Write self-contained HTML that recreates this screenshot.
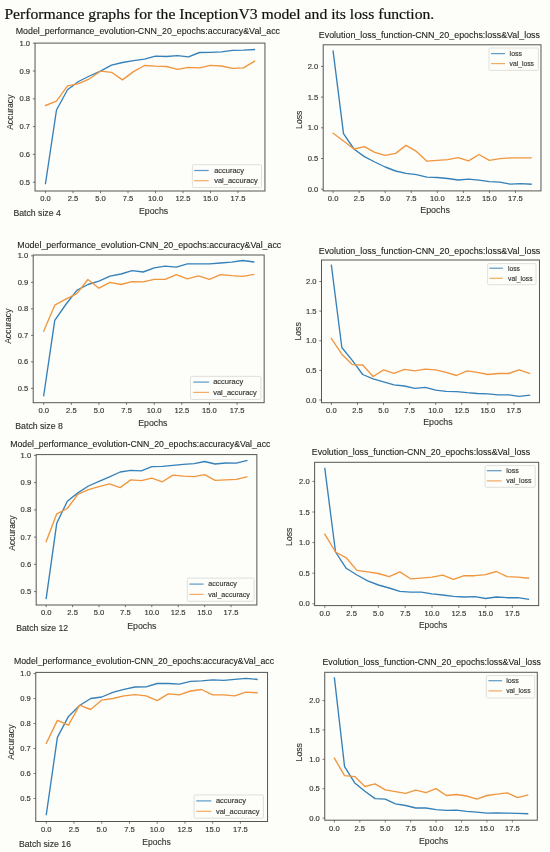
<!DOCTYPE html>
<html><head><meta charset="utf-8"><style>
html,body{margin:0;padding:0;background:#fdfdf9;}
svg{display:block;filter:blur(0.3px);}
text{font-family:"Liberation Sans",sans-serif;fill:#222;}
.cap{font-family:"Liberation Serif",serif;font-size:15px;fill:#111;stroke:#111;stroke-width:0.2px;}
.ti{font-size:8.8px;stroke:#222;stroke-width:0.1px;}
.tl{font-size:7.6px;fill:#333;stroke:#333;stroke-width:0.15px;}
.lg{font-size:7.7px;fill:#333;stroke:#333;stroke-width:0.15px;}
.lb{font-size:8.6px;fill:#333;stroke:#333;stroke-width:0.12px;}
.bt{font-size:8.7px;fill:#333;stroke:#333;stroke-width:0.15px;}
.ln{stroke-width:1.35;stroke-linejoin:round;stroke-linecap:square;}
.sp{stroke-width:1.0;}
.tk{stroke:#555;stroke-width:0.8;}
</style></head><body>
<svg width="550" height="852" viewBox="0 0 550 852">
<rect width="550" height="852" fill="#fdfdf9"/>
<text x="4.4" y="18.5" class="cap" textLength="429.9" lengthAdjust="spacingAndGlyphs">Performance graphs for the InceptionV3 model and its loss function.</text>
<text x="15.7" y="34" class="ti" textLength="264.3" lengthAdjust="spacingAndGlyphs">Model_performance_evolution-CNN_20_epochs:accuracy&amp;Val_acc</text>
<polyline points="45.5,183.6 56.5,110 67.5,89.7 78.5,81.5 89.5,76 100.5,71.2 111.5,65.1 122.5,62.5 133.5,60.7 144.5,59.2 155.5,56.1 166.5,56.5 177.5,55.6 188.5,56.8 199.5,52.5 210.5,52.3 221.5,51.8 232.5,50.4 243.5,50.2 254.5,49.5" fill="none" stroke="#3581ba" class="ln"/>
<polyline points="45.5,105.5 56.5,101.1 67.5,85.8 78.5,83.6 89.5,78.8 100.5,71.2 111.5,72.3 122.5,79.9 133.5,71.6 144.5,65.5 155.5,66.2 166.5,66.5 177.5,69.3 188.5,67.4 199.5,67.9 210.5,65.3 221.5,66 232.5,68.4 243.5,67.9 254.5,61.3" fill="none" stroke="#f0963e" class="ln"/>
<rect x="35.05" y="43.1" width="229.9" height="147.9" fill="none" stroke="#555" class="sp"/>
<line x1="45.5" y1="191" x2="45.5" y2="193.2" class="tk"/>
<text x="45.5" y="201.4" class="tl" text-anchor="middle">0.0</text>
<line x1="73" y1="191" x2="73" y2="193.2" class="tk"/>
<text x="73" y="201.4" class="tl" text-anchor="middle">2.5</text>
<line x1="100.5" y1="191" x2="100.5" y2="193.2" class="tk"/>
<text x="100.5" y="201.4" class="tl" text-anchor="middle">5.0</text>
<line x1="128" y1="191" x2="128" y2="193.2" class="tk"/>
<text x="128" y="201.4" class="tl" text-anchor="middle">7.5</text>
<line x1="155.5" y1="191" x2="155.5" y2="193.2" class="tk"/>
<text x="155.5" y="201.4" class="tl" text-anchor="middle">10.0</text>
<line x1="183" y1="191" x2="183" y2="193.2" class="tk"/>
<text x="183" y="201.4" class="tl" text-anchor="middle">12.5</text>
<line x1="210.5" y1="191" x2="210.5" y2="193.2" class="tk"/>
<text x="210.5" y="201.4" class="tl" text-anchor="middle">15.0</text>
<line x1="238" y1="191" x2="238" y2="193.2" class="tk"/>
<text x="238" y="201.4" class="tl" text-anchor="middle">17.5</text>
<line x1="32.85" y1="182.2" x2="35.05" y2="182.2" class="tk"/>
<text x="30.05" y="184.8" class="tl" text-anchor="end">0.5</text>
<line x1="32.85" y1="154.4" x2="35.05" y2="154.4" class="tk"/>
<text x="30.05" y="157" class="tl" text-anchor="end">0.6</text>
<line x1="32.85" y1="126.6" x2="35.05" y2="126.6" class="tk"/>
<text x="30.05" y="129.2" class="tl" text-anchor="end">0.7</text>
<line x1="32.85" y1="98.8" x2="35.05" y2="98.8" class="tk"/>
<text x="30.05" y="101.4" class="tl" text-anchor="end">0.8</text>
<line x1="32.85" y1="71" x2="35.05" y2="71" class="tk"/>
<text x="30.05" y="73.6" class="tl" text-anchor="end">0.9</text>
<line x1="32.85" y1="43.2" x2="35.05" y2="43.2" class="tk"/>
<text x="30.05" y="45.8" class="tl" text-anchor="end">1.0</text>
<text transform="translate(9.6,112.2) rotate(-90)" x="0" y="0" class="lb" text-anchor="middle" dominant-baseline="central">Accuracy</text>
<text x="138.9" y="213.9" class="lb" textLength="29.3" lengthAdjust="spacingAndGlyphs">Epochs</text>
<rect x="192.4" y="164.7" width="69.1" height="22.9" rx="1.2" fill="#fdfdf9" fill-opacity="0.8" stroke="#d8d8d8" stroke-width="0.8"/>
<line x1="194.1" y1="170.5" x2="208.7" y2="170.5" stroke="#3581ba" stroke-opacity="0.8" stroke-width="1.2"/>
<text x="214.2" y="172.8" class="lg" textLength="29.8" lengthAdjust="spacingAndGlyphs">accuracy</text>
<line x1="194.1" y1="180.7" x2="208.7" y2="180.7" stroke="#f0963e" stroke-opacity="0.8" stroke-width="1.2"/>
<text x="214.2" y="183" class="lg" textLength="43.6" lengthAdjust="spacingAndGlyphs">val_accuracy</text>
<text x="13.4" y="215.7" class="bt" textLength="47.4" lengthAdjust="spacingAndGlyphs">Batch size 4</text>
<text x="318.8" y="38.2" class="ti" textLength="221.2" lengthAdjust="spacingAndGlyphs">Evolution_loss_function-CNN_20_epochs:loss&amp;Val_loss</text>
<polyline points="333.1,51 343.52,133.6 353.94,149 364.36,156.6 374.78,162 385.2,167 395.62,171 406.04,173.4 416.46,174.6 426.88,177.2 437.3,177.5 447.72,178.5 458.14,180 468.56,179.2 478.98,180.2 489.4,181.7 499.82,182.1 510.24,184.2 520.66,183.6 531.08,184.2" fill="none" stroke="#3581ba" class="ln"/>
<polyline points="333.1,133.2 343.52,141 353.94,149 364.36,146.6 374.78,152.4 385.2,155.4 395.62,153.4 406.04,145.4 416.46,151.4 426.88,161.2 437.3,160.4 447.72,159.7 458.14,157.6 468.56,160.8 478.98,154.5 489.4,160.4 499.82,158.7 510.24,157.8 520.66,157.8 531.08,157.8" fill="none" stroke="#f0963e" class="ln"/>
<rect x="323.2" y="44.8" width="217.78" height="146.1" fill="none" stroke="#555" class="sp"/>
<line x1="333.1" y1="190.9" x2="333.1" y2="193.1" class="tk"/>
<text x="333.1" y="201.3" class="tl" text-anchor="middle">0.0</text>
<line x1="359.15" y1="190.9" x2="359.15" y2="193.1" class="tk"/>
<text x="359.15" y="201.3" class="tl" text-anchor="middle">2.5</text>
<line x1="385.2" y1="190.9" x2="385.2" y2="193.1" class="tk"/>
<text x="385.2" y="201.3" class="tl" text-anchor="middle">5.0</text>
<line x1="411.25" y1="190.9" x2="411.25" y2="193.1" class="tk"/>
<text x="411.25" y="201.3" class="tl" text-anchor="middle">7.5</text>
<line x1="437.3" y1="190.9" x2="437.3" y2="193.1" class="tk"/>
<text x="437.3" y="201.3" class="tl" text-anchor="middle">10.0</text>
<line x1="463.35" y1="190.9" x2="463.35" y2="193.1" class="tk"/>
<text x="463.35" y="201.3" class="tl" text-anchor="middle">12.5</text>
<line x1="489.4" y1="190.9" x2="489.4" y2="193.1" class="tk"/>
<text x="489.4" y="201.3" class="tl" text-anchor="middle">15.0</text>
<line x1="515.45" y1="190.9" x2="515.45" y2="193.1" class="tk"/>
<text x="515.45" y="201.3" class="tl" text-anchor="middle">17.5</text>
<line x1="321" y1="189.2" x2="323.2" y2="189.2" class="tk"/>
<text x="318.2" y="191.8" class="tl" text-anchor="end">0.0</text>
<line x1="321" y1="158.5" x2="323.2" y2="158.5" class="tk"/>
<text x="318.2" y="161.1" class="tl" text-anchor="end">0.5</text>
<line x1="321" y1="127.8" x2="323.2" y2="127.8" class="tk"/>
<text x="318.2" y="130.4" class="tl" text-anchor="end">1.0</text>
<line x1="321" y1="97.1" x2="323.2" y2="97.1" class="tk"/>
<text x="318.2" y="99.7" class="tl" text-anchor="end">1.5</text>
<line x1="321" y1="66.4" x2="323.2" y2="66.4" class="tk"/>
<text x="318.2" y="69" class="tl" text-anchor="end">2.0</text>
<text transform="translate(299.3,119.8) rotate(-90)" x="0" y="0" class="lb" text-anchor="middle" dominant-baseline="central">Loss</text>
<text x="420.2" y="213.1" class="lb" textLength="29.8" lengthAdjust="spacingAndGlyphs">Epochs</text>
<rect x="489" y="48" width="49.4" height="22.4" rx="1.2" fill="#fdfdf9" fill-opacity="0.8" stroke="#d8d8d8" stroke-width="0.8"/>
<line x1="491" y1="53.6" x2="505" y2="53.6" stroke="#3581ba" stroke-opacity="0.8" stroke-width="1.2"/>
<text x="509.6" y="55.9" class="lg" textLength="12.4" lengthAdjust="spacingAndGlyphs">loss</text>
<line x1="491" y1="63.6" x2="505" y2="63.6" stroke="#f0963e" stroke-opacity="0.8" stroke-width="1.2"/>
<text x="509.6" y="65.9" class="lg" textLength="24.4" lengthAdjust="spacingAndGlyphs">val_loss</text>
<text x="17.3" y="247.8" class="ti" textLength="264" lengthAdjust="spacingAndGlyphs">Model_performance_evolution-CNN_20_epochs:accuracy&amp;Val_acc</text>
<polyline points="43.7,395.8 54.75,320.3 65.8,304.5 76.85,290.4 87.9,284.5 98.95,281.2 110,276.2 121.05,274 132.1,270.7 143.15,272 154.2,267.8 165.25,266.1 176.3,267.1 187.35,263.8 198.4,263.8 209.45,263.8 220.5,263 231.55,262.1 242.6,260.5 253.65,261.9" fill="none" stroke="#3581ba" class="ln"/>
<polyline points="43.7,331.2 54.75,305.2 65.8,299.1 76.85,293.6 87.9,279.5 98.95,288.2 110,282.3 121.05,284.5 132.1,281.6 143.15,281.9 154.2,279.3 165.25,279.3 176.3,274.7 187.35,278.9 198.4,275.9 209.45,279.3 220.5,274.7 231.55,275.7 242.6,276.3 253.65,274.5" fill="none" stroke="#f0963e" class="ln"/>
<rect x="33.2" y="255" width="230.95" height="147.7" fill="none" stroke="#555" class="sp"/>
<line x1="43.7" y1="402.7" x2="43.7" y2="404.9" class="tk"/>
<text x="43.7" y="413.1" class="tl" text-anchor="middle">0.0</text>
<line x1="71.33" y1="402.7" x2="71.33" y2="404.9" class="tk"/>
<text x="71.33" y="413.1" class="tl" text-anchor="middle">2.5</text>
<line x1="98.95" y1="402.7" x2="98.95" y2="404.9" class="tk"/>
<text x="98.95" y="413.1" class="tl" text-anchor="middle">5.0</text>
<line x1="126.58" y1="402.7" x2="126.58" y2="404.9" class="tk"/>
<text x="126.58" y="413.1" class="tl" text-anchor="middle">7.5</text>
<line x1="154.2" y1="402.7" x2="154.2" y2="404.9" class="tk"/>
<text x="154.2" y="413.1" class="tl" text-anchor="middle">10.0</text>
<line x1="181.82" y1="402.7" x2="181.82" y2="404.9" class="tk"/>
<text x="181.82" y="413.1" class="tl" text-anchor="middle">12.5</text>
<line x1="209.45" y1="402.7" x2="209.45" y2="404.9" class="tk"/>
<text x="209.45" y="413.1" class="tl" text-anchor="middle">15.0</text>
<line x1="237.07" y1="402.7" x2="237.07" y2="404.9" class="tk"/>
<text x="237.07" y="413.1" class="tl" text-anchor="middle">17.5</text>
<line x1="31" y1="388.4" x2="33.2" y2="388.4" class="tk"/>
<text x="28.2" y="391" class="tl" text-anchor="end">0.5</text>
<line x1="31" y1="361.88" x2="33.2" y2="361.88" class="tk"/>
<text x="28.2" y="364.48" class="tl" text-anchor="end">0.6</text>
<line x1="31" y1="335.36" x2="33.2" y2="335.36" class="tk"/>
<text x="28.2" y="337.96" class="tl" text-anchor="end">0.7</text>
<line x1="31" y1="308.84" x2="33.2" y2="308.84" class="tk"/>
<text x="28.2" y="311.44" class="tl" text-anchor="end">0.8</text>
<line x1="31" y1="282.32" x2="33.2" y2="282.32" class="tk"/>
<text x="28.2" y="284.92" class="tl" text-anchor="end">0.9</text>
<line x1="31" y1="255.8" x2="33.2" y2="255.8" class="tk"/>
<text x="28.2" y="258.4" class="tl" text-anchor="end">1.0</text>
<text transform="translate(8.4,326.2) rotate(-90)" x="0" y="0" class="lb" text-anchor="middle" dominant-baseline="central">Accuracy</text>
<text x="138.2" y="425.8" class="lb" textLength="29.3" lengthAdjust="spacingAndGlyphs">Epochs</text>
<rect x="190.5" y="376.4" width="70.4" height="23.1" rx="1.2" fill="#fdfdf9" fill-opacity="0.8" stroke="#d8d8d8" stroke-width="0.8"/>
<line x1="193.3" y1="382.1" x2="209.1" y2="382.1" stroke="#3581ba" stroke-opacity="0.8" stroke-width="1.2"/>
<text x="213.2" y="384.4" class="lg" textLength="30" lengthAdjust="spacingAndGlyphs">accuracy</text>
<line x1="193.3" y1="392.4" x2="209.1" y2="392.4" stroke="#f0963e" stroke-opacity="0.8" stroke-width="1.2"/>
<text x="213.2" y="394.7" class="lg" textLength="43.6" lengthAdjust="spacingAndGlyphs">val_accuracy</text>
<text x="15.3" y="428.6" class="bt" textLength="47.5" lengthAdjust="spacingAndGlyphs">Batch size 8</text>
<text x="318.7" y="253.5" class="ti" textLength="221.6" lengthAdjust="spacingAndGlyphs">Evolution_loss_function-CNN_20_epochs:loss&amp;Val_loss</text>
<polyline points="331.4,265.3 341.83,347.5 352.26,360.4 362.69,374.5 373.12,378.8 383.55,381.8 393.98,384.9 404.41,386 414.84,388.3 425.27,387.4 435.7,390.2 446.13,391.4 456.56,391.6 466.99,392.7 477.42,393.5 487.85,393.9 498.28,394.8 508.71,394.8 519.14,396.4 529.57,395.2" fill="none" stroke="#3581ba" class="ln"/>
<polyline points="331.4,338.5 341.83,354.2 352.26,364.6 362.69,365 373.12,376.5 383.55,369.9 393.98,373.4 404.41,369.4 414.84,370.9 425.27,369.2 435.7,369.9 446.13,372.4 456.56,375.5 466.99,370.9 477.42,372.4 487.85,374.5 498.28,373.5 508.71,373.5 519.14,369.9 529.57,373.5" fill="none" stroke="#f0963e" class="ln"/>
<rect x="321.49" y="260" width="217.99" height="142.7" fill="none" stroke="#555" class="sp"/>
<line x1="331.4" y1="402.7" x2="331.4" y2="404.9" class="tk"/>
<text x="331.4" y="413.1" class="tl" text-anchor="middle">0.0</text>
<line x1="357.47" y1="402.7" x2="357.47" y2="404.9" class="tk"/>
<text x="357.47" y="413.1" class="tl" text-anchor="middle">2.5</text>
<line x1="383.55" y1="402.7" x2="383.55" y2="404.9" class="tk"/>
<text x="383.55" y="413.1" class="tl" text-anchor="middle">5.0</text>
<line x1="409.62" y1="402.7" x2="409.62" y2="404.9" class="tk"/>
<text x="409.62" y="413.1" class="tl" text-anchor="middle">7.5</text>
<line x1="435.7" y1="402.7" x2="435.7" y2="404.9" class="tk"/>
<text x="435.7" y="413.1" class="tl" text-anchor="middle">10.0</text>
<line x1="461.77" y1="402.7" x2="461.77" y2="404.9" class="tk"/>
<text x="461.77" y="413.1" class="tl" text-anchor="middle">12.5</text>
<line x1="487.85" y1="402.7" x2="487.85" y2="404.9" class="tk"/>
<text x="487.85" y="413.1" class="tl" text-anchor="middle">15.0</text>
<line x1="513.92" y1="402.7" x2="513.92" y2="404.9" class="tk"/>
<text x="513.92" y="413.1" class="tl" text-anchor="middle">17.5</text>
<line x1="319.29" y1="400" x2="321.49" y2="400" class="tk"/>
<text x="316.49" y="402.6" class="tl" text-anchor="end">0.0</text>
<line x1="319.29" y1="370.38" x2="321.49" y2="370.38" class="tk"/>
<text x="316.49" y="372.98" class="tl" text-anchor="end">0.5</text>
<line x1="319.29" y1="340.75" x2="321.49" y2="340.75" class="tk"/>
<text x="316.49" y="343.35" class="tl" text-anchor="end">1.0</text>
<line x1="319.29" y1="311.12" x2="321.49" y2="311.12" class="tk"/>
<text x="316.49" y="313.73" class="tl" text-anchor="end">1.5</text>
<line x1="319.29" y1="281.5" x2="321.49" y2="281.5" class="tk"/>
<text x="316.49" y="284.1" class="tl" text-anchor="end">2.0</text>
<text transform="translate(297.6,331.4) rotate(-90)" x="0" y="0" class="lb" text-anchor="middle" dominant-baseline="central">Loss</text>
<text x="423.2" y="425.2" class="lb" textLength="29.5" lengthAdjust="spacingAndGlyphs">Epochs</text>
<rect x="487.6" y="263.6" width="48.4" height="21.1" rx="1.2" fill="#fdfdf9" fill-opacity="0.8" stroke="#d8d8d8" stroke-width="0.8"/>
<line x1="489.4" y1="268.2" x2="502.9" y2="268.2" stroke="#3581ba" stroke-opacity="0.8" stroke-width="1.2"/>
<text x="508" y="270.5" class="lg" textLength="11.9" lengthAdjust="spacingAndGlyphs">loss</text>
<line x1="489.4" y1="278.3" x2="502.9" y2="278.3" stroke="#f0963e" stroke-opacity="0.8" stroke-width="1.2"/>
<text x="508" y="280.6" class="lg" textLength="24.6" lengthAdjust="spacingAndGlyphs">val_loss</text>
<text x="10.2" y="447.1" class="ti" textLength="260.2" lengthAdjust="spacingAndGlyphs">Model_performance_evolution-CNN_20_epochs:accuracy&amp;Val_acc</text>
<polyline points="46.2,598.4 56.76,523.2 67.32,501.2 77.88,492.9 88.44,486 99,481.4 109.56,476.8 120.12,472 130.68,470.3 141.24,470.9 151.8,466.7 162.36,466.3 172.92,465.3 183.48,464.4 194.04,463.6 204.6,461.5 215.16,464 225.72,463 236.28,463.2 246.84,460.5" fill="none" stroke="#3581ba" class="ln"/>
<polyline points="46.2,541.6 56.76,513.8 67.32,508.5 77.88,494.3 88.44,489.7 99,486.6 109.56,483.9 120.12,487.6 130.68,479.9 141.24,480.7 151.8,478.2 162.36,481.8 172.92,475.1 183.48,476.1 194.04,476.6 204.6,474.7 215.16,480.3 225.72,479.9 236.28,479.3 246.84,476.8" fill="none" stroke="#f0963e" class="ln"/>
<rect x="36.17" y="454.6" width="220.7" height="150.4" fill="none" stroke="#555" class="sp"/>
<line x1="46.2" y1="605" x2="46.2" y2="607.2" class="tk"/>
<text x="46.2" y="615.4" class="tl" text-anchor="middle">0.0</text>
<line x1="72.6" y1="605" x2="72.6" y2="607.2" class="tk"/>
<text x="72.6" y="615.4" class="tl" text-anchor="middle">2.5</text>
<line x1="99" y1="605" x2="99" y2="607.2" class="tk"/>
<text x="99" y="615.4" class="tl" text-anchor="middle">5.0</text>
<line x1="125.4" y1="605" x2="125.4" y2="607.2" class="tk"/>
<text x="125.4" y="615.4" class="tl" text-anchor="middle">7.5</text>
<line x1="151.8" y1="605" x2="151.8" y2="607.2" class="tk"/>
<text x="151.8" y="615.4" class="tl" text-anchor="middle">10.0</text>
<line x1="178.2" y1="605" x2="178.2" y2="607.2" class="tk"/>
<text x="178.2" y="615.4" class="tl" text-anchor="middle">12.5</text>
<line x1="204.6" y1="605" x2="204.6" y2="607.2" class="tk"/>
<text x="204.6" y="615.4" class="tl" text-anchor="middle">15.0</text>
<line x1="231" y1="605" x2="231" y2="607.2" class="tk"/>
<text x="231" y="615.4" class="tl" text-anchor="middle">17.5</text>
<line x1="33.97" y1="591.6" x2="36.17" y2="591.6" class="tk"/>
<text x="31.17" y="594.2" class="tl" text-anchor="end">0.5</text>
<line x1="33.97" y1="564.36" x2="36.17" y2="564.36" class="tk"/>
<text x="31.17" y="566.96" class="tl" text-anchor="end">0.6</text>
<line x1="33.97" y1="537.12" x2="36.17" y2="537.12" class="tk"/>
<text x="31.17" y="539.72" class="tl" text-anchor="end">0.7</text>
<line x1="33.97" y1="509.88" x2="36.17" y2="509.88" class="tk"/>
<text x="31.17" y="512.48" class="tl" text-anchor="end">0.8</text>
<line x1="33.97" y1="482.64" x2="36.17" y2="482.64" class="tk"/>
<text x="31.17" y="485.24" class="tl" text-anchor="end">0.9</text>
<line x1="33.97" y1="455.4" x2="36.17" y2="455.4" class="tk"/>
<text x="31.17" y="458" class="tl" text-anchor="end">1.0</text>
<text transform="translate(12.1,533.1) rotate(-90)" x="0" y="0" class="lb" text-anchor="middle" dominant-baseline="central">Accuracy</text>
<text x="127.2" y="628.6" class="lb" textLength="29.3" lengthAdjust="spacingAndGlyphs">Epochs</text>
<rect x="187.3" y="578.1" width="66.8" height="23.2" rx="1.2" fill="#fdfdf9" fill-opacity="0.8" stroke="#d8d8d8" stroke-width="0.8"/>
<line x1="189.4" y1="584.1" x2="203.6" y2="584.1" stroke="#3581ba" stroke-opacity="0.8" stroke-width="1.2"/>
<text x="208.3" y="586.4" class="lg" textLength="28.6" lengthAdjust="spacingAndGlyphs">accuracy</text>
<line x1="189.4" y1="594.4" x2="203.6" y2="594.4" stroke="#f0963e" stroke-opacity="0.8" stroke-width="1.2"/>
<text x="208.3" y="596.7" class="lg" textLength="41.6" lengthAdjust="spacingAndGlyphs">val_accuracy</text>
<text x="16.3" y="630.9" class="bt" textLength="51.8" lengthAdjust="spacingAndGlyphs">Batch size 12</text>
<text x="311.8" y="455.4" class="ti" textLength="218.3" lengthAdjust="spacingAndGlyphs">Evolution_loss_function-CNN_20_epochs:loss&amp;Val_loss</text>
<polyline points="324.8,468.4 335.52,552 346.24,568.3 356.96,575 367.68,580.8 378.4,585 389.12,588 399.84,591.3 410.56,592.1 421.28,592.1 432,593.9 442.72,595 453.44,596.4 464.16,597 474.88,596.6 485.6,598.5 496.32,597 507.04,597.7 517.76,597.7 528.48,599.3" fill="none" stroke="#3581ba" class="ln"/>
<polyline points="324.8,534.2 335.52,552 346.24,557.8 356.96,570.4 367.68,571.9 378.4,573.5 389.12,576.7 399.84,571.9 410.56,578.8 421.28,578.1 432,577.2 442.72,575.1 453.44,579.3 464.16,575.7 474.88,575.7 485.6,574.7 496.32,571.5 507.04,576.6 517.76,577.2 528.48,578.2" fill="none" stroke="#f0963e" class="ln"/>
<rect x="314.62" y="462.3" width="224.05" height="143.3" fill="none" stroke="#555" class="sp"/>
<line x1="324.8" y1="605.6" x2="324.8" y2="607.8" class="tk"/>
<text x="324.8" y="616" class="tl" text-anchor="middle">0.0</text>
<line x1="351.6" y1="605.6" x2="351.6" y2="607.8" class="tk"/>
<text x="351.6" y="616" class="tl" text-anchor="middle">2.5</text>
<line x1="378.4" y1="605.6" x2="378.4" y2="607.8" class="tk"/>
<text x="378.4" y="616" class="tl" text-anchor="middle">5.0</text>
<line x1="405.2" y1="605.6" x2="405.2" y2="607.8" class="tk"/>
<text x="405.2" y="616" class="tl" text-anchor="middle">7.5</text>
<line x1="432" y1="605.6" x2="432" y2="607.8" class="tk"/>
<text x="432" y="616" class="tl" text-anchor="middle">10.0</text>
<line x1="458.8" y1="605.6" x2="458.8" y2="607.8" class="tk"/>
<text x="458.8" y="616" class="tl" text-anchor="middle">12.5</text>
<line x1="485.6" y1="605.6" x2="485.6" y2="607.8" class="tk"/>
<text x="485.6" y="616" class="tl" text-anchor="middle">15.0</text>
<line x1="512.4" y1="605.6" x2="512.4" y2="607.8" class="tk"/>
<text x="512.4" y="616" class="tl" text-anchor="middle">17.5</text>
<line x1="312.42" y1="603.8" x2="314.62" y2="603.8" class="tk"/>
<text x="309.62" y="606.4" class="tl" text-anchor="end">0.0</text>
<line x1="312.42" y1="573.2" x2="314.62" y2="573.2" class="tk"/>
<text x="309.62" y="575.8" class="tl" text-anchor="end">0.5</text>
<line x1="312.42" y1="542.6" x2="314.62" y2="542.6" class="tk"/>
<text x="309.62" y="545.2" class="tl" text-anchor="end">1.0</text>
<line x1="312.42" y1="512" x2="314.62" y2="512" class="tk"/>
<text x="309.62" y="514.6" class="tl" text-anchor="end">1.5</text>
<line x1="312.42" y1="481.4" x2="314.62" y2="481.4" class="tk"/>
<text x="309.62" y="484" class="tl" text-anchor="end">2.0</text>
<text transform="translate(289.4,536.8) rotate(-90)" x="0" y="0" class="lb" text-anchor="middle" dominant-baseline="central">Loss</text>
<text x="418.9" y="627.8" class="lb" textLength="28.5" lengthAdjust="spacingAndGlyphs">Epochs</text>
<rect x="485.1" y="465.6" width="50.1" height="21.7" rx="1.2" fill="#fdfdf9" fill-opacity="0.8" stroke="#d8d8d8" stroke-width="0.8"/>
<line x1="486.8" y1="470.7" x2="501.6" y2="470.7" stroke="#3581ba" stroke-opacity="0.8" stroke-width="1.2"/>
<text x="506.2" y="473" class="lg" textLength="12.7" lengthAdjust="spacingAndGlyphs">loss</text>
<line x1="486.8" y1="480.9" x2="501.6" y2="480.9" stroke="#f0963e" stroke-opacity="0.8" stroke-width="1.2"/>
<text x="506.2" y="483.2" class="lg" textLength="25.4" lengthAdjust="spacingAndGlyphs">val_loss</text>
<text x="14" y="664.3" class="ti" textLength="260" lengthAdjust="spacingAndGlyphs">Model_performance_evolution-CNN_20_epochs:accuracy&amp;Val_acc</text>
<polyline points="46.3,814.6 57.39,737.4 68.48,716.4 79.57,705.5 90.66,698.5 101.75,697 112.84,692.4 123.93,689.4 135.02,687 146.11,686.8 157.2,683.5 168.29,683.5 179.38,684.1 190.47,681.3 201.56,680.9 212.65,679.8 223.74,680.4 234.83,679.4 245.92,678.3 257.01,679.4" fill="none" stroke="#3581ba" class="ln"/>
<polyline points="46.3,743.3 57.39,720.4 68.48,725.2 79.57,705.1 90.66,709.5 101.75,700.1 112.84,698.5 123.93,695.9 135.02,694.6 146.11,695.9 157.2,700.6 168.29,693.8 179.38,694.8 190.47,691 201.56,689.5 212.65,694.8 223.74,694.8 234.83,695.9 245.92,692.2 257.01,692.7" fill="none" stroke="#f0963e" class="ln"/>
<rect x="35.76" y="672.4" width="231.78" height="149.1" fill="none" stroke="#555" class="sp"/>
<line x1="46.3" y1="821.5" x2="46.3" y2="823.7" class="tk"/>
<text x="46.3" y="831.9" class="tl" text-anchor="middle">0.0</text>
<line x1="74.03" y1="821.5" x2="74.03" y2="823.7" class="tk"/>
<text x="74.03" y="831.9" class="tl" text-anchor="middle">2.5</text>
<line x1="101.75" y1="821.5" x2="101.75" y2="823.7" class="tk"/>
<text x="101.75" y="831.9" class="tl" text-anchor="middle">5.0</text>
<line x1="129.47" y1="821.5" x2="129.47" y2="823.7" class="tk"/>
<text x="129.47" y="831.9" class="tl" text-anchor="middle">7.5</text>
<line x1="157.2" y1="821.5" x2="157.2" y2="823.7" class="tk"/>
<text x="157.2" y="831.9" class="tl" text-anchor="middle">10.0</text>
<line x1="184.93" y1="821.5" x2="184.93" y2="823.7" class="tk"/>
<text x="184.93" y="831.9" class="tl" text-anchor="middle">12.5</text>
<line x1="212.65" y1="821.5" x2="212.65" y2="823.7" class="tk"/>
<text x="212.65" y="831.9" class="tl" text-anchor="middle">15.0</text>
<line x1="240.38" y1="821.5" x2="240.38" y2="823.7" class="tk"/>
<text x="240.38" y="831.9" class="tl" text-anchor="middle">17.5</text>
<line x1="33.56" y1="798.5" x2="35.76" y2="798.5" class="tk"/>
<text x="30.76" y="801.1" class="tl" text-anchor="end">0.5</text>
<line x1="33.56" y1="773.52" x2="35.76" y2="773.52" class="tk"/>
<text x="30.76" y="776.12" class="tl" text-anchor="end">0.6</text>
<line x1="33.56" y1="748.54" x2="35.76" y2="748.54" class="tk"/>
<text x="30.76" y="751.14" class="tl" text-anchor="end">0.7</text>
<line x1="33.56" y1="723.56" x2="35.76" y2="723.56" class="tk"/>
<text x="30.76" y="726.16" class="tl" text-anchor="end">0.8</text>
<line x1="33.56" y1="698.58" x2="35.76" y2="698.58" class="tk"/>
<text x="30.76" y="701.18" class="tl" text-anchor="end">0.9</text>
<line x1="33.56" y1="673.6" x2="35.76" y2="673.6" class="tk"/>
<text x="30.76" y="676.2" class="tl" text-anchor="end">1.0</text>
<text transform="translate(11.2,742.2) rotate(-90)" x="0" y="0" class="lb" text-anchor="middle" dominant-baseline="central">Accuracy</text>
<text x="142.3" y="844.9" class="lb" textLength="28.6" lengthAdjust="spacingAndGlyphs">Epochs</text>
<rect x="194.1" y="794.9" width="69.3" height="23.3" rx="1.2" fill="#fdfdf9" fill-opacity="0.8" stroke="#d8d8d8" stroke-width="0.8"/>
<line x1="196.3" y1="800.9" x2="211.3" y2="800.9" stroke="#3581ba" stroke-opacity="0.8" stroke-width="1.2"/>
<text x="215.9" y="803.2" class="lg" textLength="30" lengthAdjust="spacingAndGlyphs">accuracy</text>
<line x1="196.3" y1="811.3" x2="211.3" y2="811.3" stroke="#f0963e" stroke-opacity="0.8" stroke-width="1.2"/>
<text x="215.9" y="813.6" class="lg" textLength="43.6" lengthAdjust="spacingAndGlyphs">val_accuracy</text>
<text x="18.9" y="846.9" class="bt" textLength="52.1" lengthAdjust="spacingAndGlyphs">Batch size 16</text>
<text x="322.5" y="664.9" class="ti" textLength="218.5" lengthAdjust="spacingAndGlyphs">Evolution_loss_function-CNN_20_epochs:loss&amp;Val_loss</text>
<polyline points="334.4,677.9 344.57,766.6 354.74,782.9 364.91,791.3 375.08,798.6 385.25,799.2 395.42,803.8 405.59,805.5 415.76,808 425.93,808 436.1,809.6 446.27,810.4 456.44,810.2 466.61,811.4 476.78,812.1 486.95,813.1 497.12,812.9 507.29,813.1 517.46,813.3 527.63,813.7" fill="none" stroke="#3581ba" class="ln"/>
<polyline points="334.4,758.2 344.57,775.6 354.74,776.6 364.91,786.5 375.08,783.9 385.25,789.8 395.42,791.7 405.59,793.4 415.76,790.2 425.93,792.7 436.1,788.6 446.27,795.5 456.44,794.5 466.61,796 476.78,799.1 486.95,795.5 497.12,794.1 507.29,792.8 517.46,797.6 527.63,795.1" fill="none" stroke="#f0963e" class="ln"/>
<rect x="324.74" y="672.3" width="212.55" height="147.9" fill="none" stroke="#555" class="sp"/>
<line x1="334.4" y1="820.2" x2="334.4" y2="822.4" class="tk"/>
<text x="334.4" y="830.6" class="tl" text-anchor="middle">0.0</text>
<line x1="359.82" y1="820.2" x2="359.82" y2="822.4" class="tk"/>
<text x="359.82" y="830.6" class="tl" text-anchor="middle">2.5</text>
<line x1="385.25" y1="820.2" x2="385.25" y2="822.4" class="tk"/>
<text x="385.25" y="830.6" class="tl" text-anchor="middle">5.0</text>
<line x1="410.67" y1="820.2" x2="410.67" y2="822.4" class="tk"/>
<text x="410.67" y="830.6" class="tl" text-anchor="middle">7.5</text>
<line x1="436.1" y1="820.2" x2="436.1" y2="822.4" class="tk"/>
<text x="436.1" y="830.6" class="tl" text-anchor="middle">10.0</text>
<line x1="461.52" y1="820.2" x2="461.52" y2="822.4" class="tk"/>
<text x="461.52" y="830.6" class="tl" text-anchor="middle">12.5</text>
<line x1="486.95" y1="820.2" x2="486.95" y2="822.4" class="tk"/>
<text x="486.95" y="830.6" class="tl" text-anchor="middle">15.0</text>
<line x1="512.38" y1="820.2" x2="512.38" y2="822.4" class="tk"/>
<text x="512.38" y="830.6" class="tl" text-anchor="middle">17.5</text>
<line x1="322.54" y1="818.1" x2="324.74" y2="818.1" class="tk"/>
<text x="319.74" y="820.7" class="tl" text-anchor="end">0.0</text>
<line x1="322.54" y1="788.73" x2="324.74" y2="788.73" class="tk"/>
<text x="319.74" y="791.33" class="tl" text-anchor="end">0.5</text>
<line x1="322.54" y1="759.35" x2="324.74" y2="759.35" class="tk"/>
<text x="319.74" y="761.95" class="tl" text-anchor="end">1.0</text>
<line x1="322.54" y1="729.98" x2="324.74" y2="729.98" class="tk"/>
<text x="319.74" y="732.58" class="tl" text-anchor="end">1.5</text>
<line x1="322.54" y1="700.6" x2="324.74" y2="700.6" class="tk"/>
<text x="319.74" y="703.2" class="tl" text-anchor="end">2.0</text>
<text transform="translate(299.1,752.3) rotate(-90)" x="0" y="0" class="lb" text-anchor="middle" dominant-baseline="central">Loss</text>
<text x="418.9" y="844.1" class="lb" textLength="29.3" lengthAdjust="spacingAndGlyphs">Epochs</text>
<rect x="486.3" y="675.6" width="48.4" height="22.4" rx="1.2" fill="#fdfdf9" fill-opacity="0.8" stroke="#d8d8d8" stroke-width="0.8"/>
<line x1="488.4" y1="680.7" x2="502.1" y2="680.7" stroke="#3581ba" stroke-opacity="0.8" stroke-width="1.2"/>
<text x="506.2" y="683" class="lg" textLength="12.7" lengthAdjust="spacingAndGlyphs">loss</text>
<line x1="488.4" y1="690.9" x2="502.1" y2="690.9" stroke="#f0963e" stroke-opacity="0.8" stroke-width="1.2"/>
<text x="506.2" y="693.2" class="lg" textLength="24.4" lengthAdjust="spacingAndGlyphs">val_loss</text>
</svg>
</body></html>
